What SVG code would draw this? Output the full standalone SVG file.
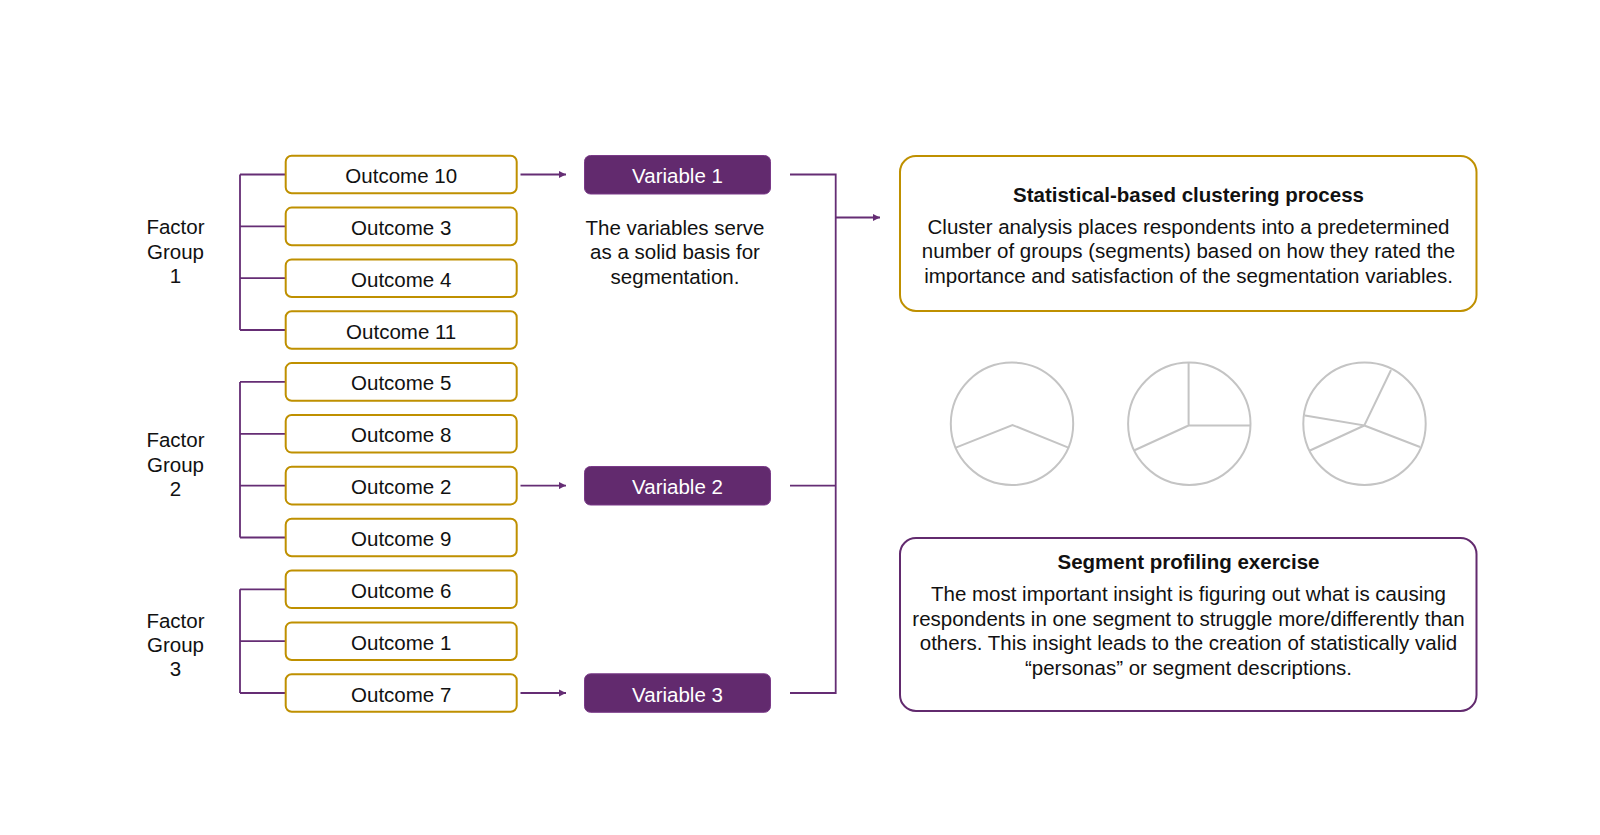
<svg xmlns="http://www.w3.org/2000/svg" width="1600" height="835" viewBox="0 0 1600 835">
<style>
text{font-family:"Liberation Sans",Arial,sans-serif;font-size:20.5px;fill:#111;text-anchor:middle}
.out{fill:#fff;stroke:#bf9000;stroke-width:2}
.var{fill:#622a6e;stroke:#7a3a88;stroke-width:1}
.vt{fill:#fff}
.con{fill:none;stroke:#652d74;stroke-width:1.8}
.pie{fill:none;stroke:#c4c4c4;stroke-width:2}
.b{font-weight:bold}
</style>
<defs>
<marker id="ah" viewBox="0 0 10 10" refX="10" refY="5" markerWidth="4" markerHeight="4" orient="auto" markerUnits="strokeWidth">
<path d="M0,0 L10,5 L0,10 z" fill="#652d74"/>
</marker>
</defs>
<rect width="1600" height="835" fill="#fff"/>

<g id="connectors">
<path class="con" d="M240,174.5 V330 M240,174.5 H285.7 M240,226.4 H285.7 M240,278.2 H285.7 M240,330 H285.7"/>
<path class="con" d="M240,381.9 V537.5 M240,381.9 H285.7 M240,433.8 H285.7 M240,485.6 H285.7 M240,537.5 H285.7"/>
<path class="con" d="M240,589.3 V693 M240,589.3 H285.7 M240,641.2 H285.7 M240,693 H285.7"/>
<path class="con" d="M520.5,174.5 H566" marker-end="url(#ah)"/>
<path class="con" d="M520.5,485.6 H566" marker-end="url(#ah)"/>
<path class="con" d="M520.5,693 H566" marker-end="url(#ah)"/>
<path class="con" d="M790,174.5 H835.7 V693 H790 M790,485.6 H835.7"/>
<path class="con" d="M835.7,217.5 H880" marker-end="url(#ah)"/>
</g>

<g id="group1"><text x="175.5" y="234">Factor</text><text x="175.5" y="258.5">Group</text><text x="175.5" y="283">1</text></g>
<g id="group2"><text x="175.5" y="447">Factor</text><text x="175.5" y="471.5">Group</text><text x="175.5" y="495.5">2</text></g>
<g id="group3"><text x="175.5" y="627.5">Factor</text><text x="175.5" y="652">Group</text><text x="175.5" y="676">3</text></g>

<g id="outcome10"><rect class="out" x="285.7" y="155.7" width="231" height="37.6" rx="6"/><text x="401.2" y="183">Outcome 10</text></g>
<g id="outcome3"><rect class="out" x="285.7" y="207.6" width="231" height="37.6" rx="6"/><text x="401.2" y="234.9">Outcome 3</text></g>
<g id="outcome4"><rect class="out" x="285.7" y="259.4" width="231" height="37.6" rx="6"/><text x="401.2" y="286.7">Outcome 4</text></g>
<g id="outcome11"><rect class="out" x="285.7" y="311.2" width="231" height="37.6" rx="6"/><text x="401.2" y="338.5">Outcome 11</text></g>
<g id="outcome5"><rect class="out" x="285.7" y="363.1" width="231" height="37.6" rx="6"/><text x="401.2" y="390.4">Outcome 5</text></g>
<g id="outcome8"><rect class="out" x="285.7" y="415" width="231" height="37.6" rx="6"/><text x="401.2" y="442.3">Outcome 8</text></g>
<g id="outcome2"><rect class="out" x="285.7" y="466.8" width="231" height="37.6" rx="6"/><text x="401.2" y="494.1">Outcome 2</text></g>
<g id="outcome9"><rect class="out" x="285.7" y="518.7" width="231" height="37.6" rx="6"/><text x="401.2" y="546">Outcome 9</text></g>
<g id="outcome6"><rect class="out" x="285.7" y="570.5" width="231" height="37.6" rx="6"/><text x="401.2" y="597.8">Outcome 6</text></g>
<g id="outcome1"><rect class="out" x="285.7" y="622.4" width="231" height="37.6" rx="6"/><text x="401.2" y="649.7">Outcome 1</text></g>
<g id="outcome7"><rect class="out" x="285.7" y="674.2" width="231" height="37.6" rx="6"/><text x="401.2" y="701.5">Outcome 7</text></g>

<g id="variable1"><rect class="var" x="584.5" y="155.5" width="186" height="38.5" rx="6"/><text class="vt" x="677.5" y="183">Variable 1</text></g>
<g id="variable2"><rect class="var" x="584.5" y="466.5" width="186" height="38.5" rx="6"/><text class="vt" x="677.5" y="494.1">Variable 2</text></g>
<g id="variable3"><rect class="var" x="584.5" y="673.8" width="186" height="38.5" rx="6"/><text class="vt" x="677.5" y="701.5">Variable 3</text></g>

<g id="note"><text x="675" y="234.5">The variables serve</text><text x="675" y="259">as a solid basis for</text><text x="675" y="283.5">segmentation.</text></g>

<g id="clustering">
<rect x="900" y="156" width="576.5" height="155" rx="16" fill="#fff" stroke="#bf9000" stroke-width="2"/>
<text class="b" x="1188.5" y="201.5">Statistical-based clustering process</text>
<text x="1188.5" y="233.5">Cluster analysis places respondents into a predetermined</text>
<text x="1188.5" y="258">number of groups (segments) based on how they rated the</text>
<text x="1188.5" y="282.5">importance and satisfaction of the segmentation variables.</text>
</g>

<g id="pies">
<circle class="pie" cx="1012" cy="423.8" r="61.2"/>
<path class="pie" d="M955.8,447.6 L1012.5,425 L1068.4,447.6"/>
<circle class="pie" cx="1189.3" cy="423.8" r="61.2"/>
<path class="pie" d="M1188.6,362.6 V425.5 H1250.5 M1188.6,425.5 L1134,450.5"/>
<circle class="pie" cx="1364.5" cy="423.8" r="61.2"/>
<path class="pie" d="M1391,370 L1364.3,425.5 L1305,415.5 M1364.3,425.5 L1310,450.5 M1364.3,425.5 L1420,447"/>
</g>

<g id="profiling">
<rect x="900" y="538" width="576.5" height="173" rx="16" fill="#fff" stroke="#622a6e" stroke-width="2"/>
<text class="b" x="1188.5" y="568.5">Segment profiling exercise</text>
<text x="1188.5" y="601">The most important insight is figuring out what is causing</text>
<text x="1188.5" y="625.5">respondents in one segment to struggle more/differently than</text>
<text x="1188.5" y="650">others. This insight leads to the creation of statistically valid</text>
<text x="1188.5" y="674.5">“personas” or segment descriptions.</text>
</g>
</svg>
